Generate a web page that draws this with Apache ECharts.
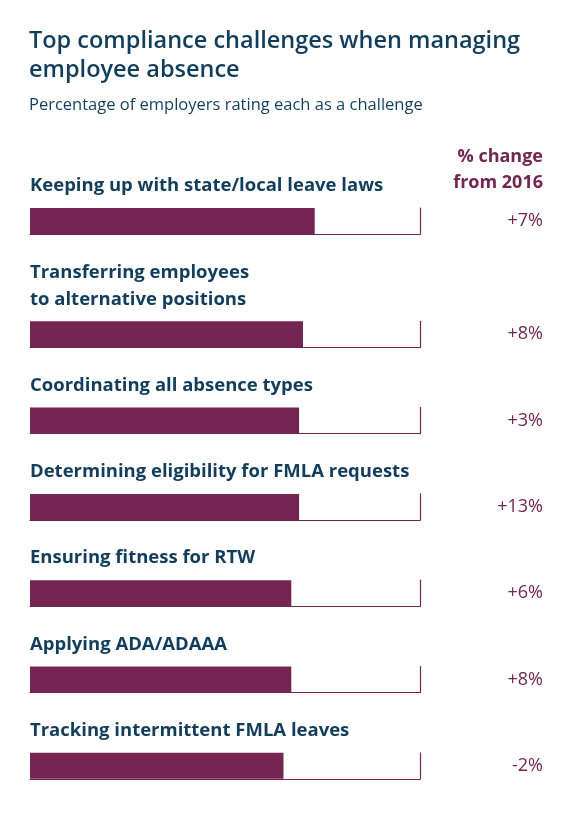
<!DOCTYPE html>
<html>
<head>
<meta charset="utf-8">
<script src="https://cdn.jsdelivr.net/npm/echarts@6/dist/echarts.min.js"></script>
<style>
  html, body { margin: 0; padding: 0; background: #fff; }
  #chart { width: 576px; height: 817px; }
</style>
</head>
<body>
<div id="chart"></div>
<script>
// data
var categories = [
  "Keeping up with state/local leave laws",
  "Transferring employees\nto alternative positions",
  "Coordinating all absence types",
  "Determining eligibility for FMLA requests",
  "Ensuring fitness for RTW",
  "Applying ADA/ADAAA",
  "Tracking intermittent FMLA leaves"
];
var values = [73, 70, 69, 69, 67, 67, 65];
var changes = ["+7%", "+8%", "+3%", "+13%", "+6%", "+8%", "-2%"];

(function() {
  var myChart = echarts.init(document.getElementById("chart"));
  var purple = "#732652";
  var navy = "#123d5b";
  var font = "'Open Sans'";

  // layout: rows of bars, extra room where the label wraps
  var firstTop = 208, rowStep = 86.3, lineH = 27, barH = 26;
  var grids = [], xAxes = [], yAxes = [], series = [], texts = [];

  function txt(s, x, y, size, weight, color, align) {
    texts.push({
      type: "text", x: x, y: y, silent: true,
      style: {
        text: s, fill: color, align: align || "left", verticalAlign: "middle",
        font: weight + " " + size + "px " + font
      }
    });
  }

  txt("Top compliance challenges when managing", 29, 41, 23.5, 600, navy);
  txt("employee absence", 29, 70, 23.5, 600, navy);
  txt("Percentage of employers rating each as a challenge", 29, 105, 16.5, "normal", navy);
  txt("% change", 543, 157, 18, "bold", purple, "right");
  txt("from 2016", 543, 183, 18, "bold", purple, "right");

  var extra = 0;
  categories.forEach(function(cat, i) {
    var lines = cat.split("\n");
    extra += lines.length - 1;
    var top = firstTop + i * rowStep + extra * lineH;

    lines.forEach(function(line, k) {
      txt(line, 30, top - 22 - (lines.length - 1 - k) * lineH, 18.5, "bold", navy);
    });

    grids.push({ left: 30, width: 390, top: top, height: barH });
    xAxes.push({
      gridIndex: i, type: "value", min: 0, max: 100,
      axisLabel: { show: false }, axisTick: { show: false }, splitLine: { show: false },
      axisLine: { show: true, lineStyle: { color: purple, width: 1 } }
    });
    yAxes.push({ gridIndex: i, type: "category", data: [cat], show: false });
    yAxes.push({
      gridIndex: i, type: "category", position: "right", data: [changes[i]],
      axisLine: { show: true, lineStyle: { color: purple, width: 1.2 } },
      axisTick: { show: false },
      axisLabel: { align: "right", margin: 123, color: purple, fontSize: 18, fontFamily: font }
    });
    series.push({
      type: "bar", xAxisIndex: i, yAxisIndex: i * 2,
      data: [values[i]], barWidth: "100%",
      itemStyle: { color: purple },
      silent: true
    });
  });

  var option = {
    animation: false,
    grid: grids,
    xAxis: xAxes,
    yAxis: yAxes,
    series: series,
    graphic: texts
  };
  myChart.setOption(option);
})();
</script>
</body>
</html>
